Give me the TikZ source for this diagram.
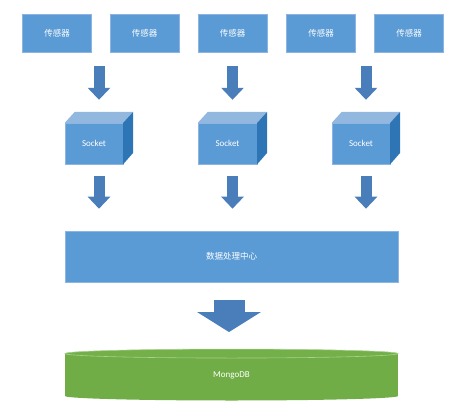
\documentclass[tikz,border=0pt]{standalone}
\usepackage{fontspec}
\setmainfont{Carlito}
\newfontfamily\cjk{Noto Sans CJK SC}
\usetikzlibrary{arrows.meta,calc}
\definecolor{boxblue}{HTML}{5B9BD5}
\definecolor{edgeblue}{HTML}{8EB4E3}
\definecolor{arrblue}{HTML}{4A7EBB}
\definecolor{topblue}{HTML}{92B8E0}
\definecolor{sideblue}{HTML}{2E75B6}
\definecolor{dbgreen}{HTML}{70AD47}
\definecolor{dbtop}{HTML}{74B04A}
\definecolor{dbedge}{HTML}{A9D18E}
\begin{document}
\begin{tikzpicture}[x=1pt,y=-1pt,
  sensor/.style={rectangle, fill=boxblue, draw=edgeblue, line width=0.6pt,
    minimum width=69pt, minimum height=38pt, inner sep=0pt, text=white,
    font=\cjk\fontsize{8.5}{10}\selectfont},
  sockfront/.style={rectangle, fill=boxblue, draw=edgeblue, line width=0.4pt,
    minimum height=41pt, inner sep=0pt, text=white,
    font=\fontsize{9}{11}\selectfont},
  center/.style={rectangle, fill=boxblue, draw=edgeblue, line width=0.6pt,
    minimum width=333pt, minimum height=51pt, inner sep=0pt, text=white,
    font=\cjk\fontsize{8.5}{10}\selectfont},
  dbbody/.style={rectangle, fill=dbgreen, minimum width=333pt,
    minimum height=42.5pt, inner sep=0pt, text=white,
    font=\fontsize{9}{11}\selectfont},
  blockarr/.style={draw=arrblue, line width=11pt,
    -{Triangle[width=22pt,length=12pt,fill=arrblue]}},
  bigarr/.style={draw=arrblue, line width=31pt,
    -{Triangle[width=63pt,length=20pt,fill=arrblue]}}
]
\useasboundingbox (0,0) rectangle (474,420);

% sensors
\node[sensor] (s1) at (57,33) {传感器};
\node[sensor] (s2) at (144.5,33) {传感器};
\node[sensor] (s3) at (232.5,33) {传感器};
\node[sensor] (s4) at (321,33) {传感器};
\node[sensor] (s5) at (409,33) {传感器};

% sockets (front faces)
\node[sockfront, minimum width=58pt] (k1) at (94,143.5) {Socket};
\node[sockfront, minimum width=59pt] (k2) at (227.5,143.5) {Socket};
\node[sockfront, minimum width=58pt] (k3) at (361,143.5) {Socket};

\foreach \k in {k1,k2,k3}{
  \fill[topblue] (\k.north west) -- ++(10,-11) -- ($(\k.north east)+(10,-11)$)
      -- (\k.north east) -- cycle;
  \fill[sideblue] (\k.north east) -- ++(10,-11) -- ++(0,41) -- (\k.south east) -- cycle;
  \coordinate (\k t) at ($(\k.north)+(5,-11)$);
}

% data processing centre
\node[center] (dc) at (231.5,256.5) {数据处理中心};

% MongoDB cylinder
\fill[dbgreen] (231.5,396) ellipse [x radius=166.5pt, y radius=4.5pt];
\node[dbbody] (db) at (231.5,375) {MongoDB};
\filldraw[fill=dbtop, draw=dbedge, line width=0.6pt] (db.north) ellipse [x radius=166.5pt, y radius=4.5pt];

% arrows sensors -> sockets
\draw[blockarr, shorten <=14pt, shorten >=12pt] (s1.south -| k1t) -- (k1t);
\draw[blockarr, shorten <=14pt, shorten >=12pt] (s3.south -| k2t) -- (k2t);
\draw[blockarr, shorten <=14pt, shorten >=12pt] (s5.south -| k3t) -- (k3t);

% arrows sockets -> centre
\draw[blockarr, shorten <=12pt, shorten >=22pt] (k1.south -| k1t) -- (dc.north -| k1t);
\draw[blockarr, shorten <=12pt, shorten >=22pt] (k2.south -| k2t) -- (dc.north -| k2t);
\draw[blockarr, shorten <=12pt, shorten >=22pt] (k3.south -| k3t) -- (dc.north -| k3t);

% big arrow centre -> MongoDB
\draw[bigarr, shorten <=18pt, shorten >=21.5pt] ($(dc.south)+(-2.5,0)$) -- ($(db.north)+(-2.5,0)$);
\end{tikzpicture}
\end{document}
